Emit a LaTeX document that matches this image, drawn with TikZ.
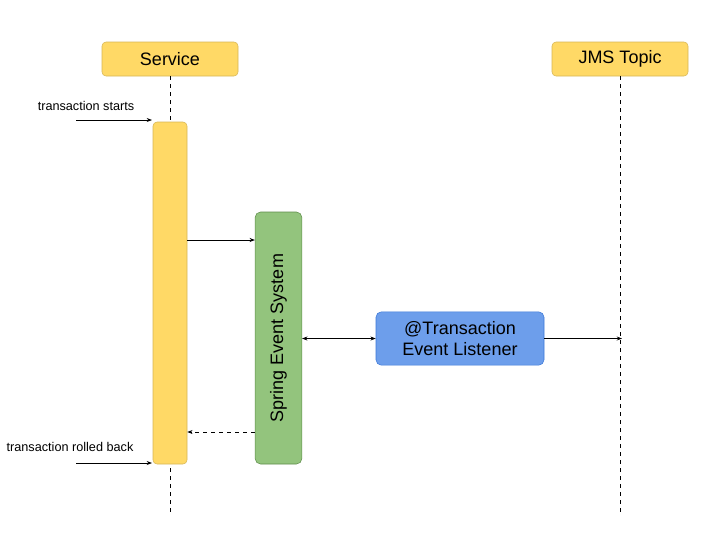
\documentclass[tikz,border=0pt]{standalone}
\usepackage{fontspec}
\setmainfont{Liberation Sans}
\usetikzlibrary{arrows.meta}
\definecolor{ylw}{HTML}{FFD966}
\definecolor{ylwb}{HTML}{D6B656}
\definecolor{grn}{HTML}{93C47D}
\definecolor{grnb}{HTML}{5E8C4A}
\definecolor{blu}{HTML}{6D9EEB}
\definecolor{blub}{HTML}{3C78D8}
\begin{document}
\begin{tikzpicture}[x=0.75pt,y=-0.75pt,
  box/.style={draw=ylwb,fill=ylw,rounded corners=3pt,minimum width=102pt,minimum height=25.5pt,font=\fontsize{13.5}{15}\selectfont,inner sep=0pt},
  life/.style={dashed,line width=0.5pt},
  msg/.style={-{Stealth[length=4pt,width=3pt]},line width=0.6pt},
  lbl/.style={font=\fontsize{9.5}{11}\selectfont}]
\useasboundingbox (0,0) rectangle (720,540);
\node[box] (svc) at (170,59) {Service};
\node[box] (jms) at (620,59) {JMS Topic};
\coordinate (svcend) at (170,512);
\coordinate (jmsend) at (620,512);
\draw[life] (svc.south) -- (svcend);
\draw[life] (jms.south) -- (jmsend);
\node[draw=ylwb,fill=ylw,rounded corners=3pt,minimum width=25.5pt,minimum height=256.5pt,inner sep=0pt] (act) at (170,293) {};
\node[draw=grnb,fill=grn,rounded corners=4pt,minimum width=35pt,minimum height=189pt,inner sep=0pt] (ses) at (278.5,338) {};
\node[rotate=90,font=\fontsize{13.5}{15}\selectfont] (sest) at (ses.center) {Spring Event System};
\node[draw=blub,fill=blu,rounded corners=4pt,minimum width=126pt,minimum height=40pt,align=center,inner sep=0pt,font=\fontsize{13.5}{16}\selectfont] (tel) at (460,338.5) {@Transaction\\Event Listener};
\coordinate (s1) at (76,120);
\coordinate (s2) at (152,120);
\draw[msg] (s1) -- (s2);
\node[lbl] (ts) at (86,106) {transaction starts};
\coordinate (r1) at (76,463);
\coordinate (r2) at (152,463);
\draw[msg] (r1) -- (r2);
\node[lbl] (rb) at (70,447) {transaction rolled back};
\draw[msg] (act.east |- 0,240) -- (ses.west |- 0,240);
\draw[msg,dashed] (ses.west |- 0,432) -- (act.east |- 0,432);
\draw[msg,{Stealth[length=4pt,width=3pt]}-{Stealth[length=4pt,width=3pt]}] (ses.east |- tel.west) -- (tel.west);
\coordinate (jt) at (622,338.5);
\draw[msg] (tel.east) -- (jt);
\end{tikzpicture}
\end{document}
